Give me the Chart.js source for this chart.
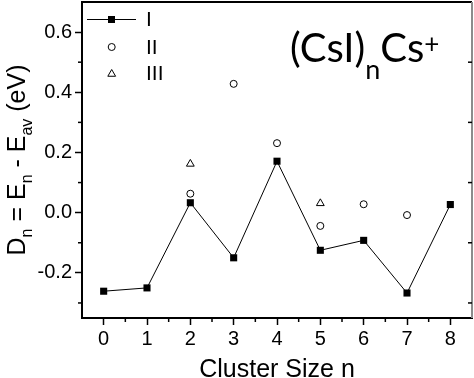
<!DOCTYPE html>
<html><head><meta charset="utf-8">
<script src="https://cdn.jsdelivr.net/npm/chart.js@4.4.1/dist/chart.umd.min.js"></script>
<style>html,body{margin:0;padding:0;background:#fff}#wrap{width:474px;height:378px;position:relative}</style>
</head><body><div id="wrap"><canvas id="c"></canvas></div>
<script>
// ---- data ----
const clusterSizes = [0,1,2,3,4,5,6,7,8];
const seriesI   = [-0.261,-0.250,0.033,-0.150,0.171,-0.125,-0.092,-0.267,0.027];
const seriesIIn = [2,3,4,5,6,7];
const seriesII  = [0.063,0.428,0.231,-0.044,0.028,-0.008];
const seriesIIIn = [2,5];
const seriesIII  = [0.162,0.031];
const seriesNames = ['I','II','III'];
const xTickValues = [0,1,2,3,4,5,6,7,8];
const xTickLabels = ['0','1','2','3','4','5','6','7','8'];
const xMinorValues = [0.5,1.5,2.5,3.5,4.5,5.5,6.5,7.5];
const yTickValues = [-0.2,0.0,0.2,0.4,0.6];
const yTickLabels = ['-0.2','0.0','0.2','0.4','0.6'];
const yMinorValues = [-0.3,-0.1,0.1,0.3,0.5];
const xTitle = 'Cluster Size n';
const yTitleParts = [['D',0],['n',1],[' = E',0],['n',1],[' - E',0],['av',1],[' (eV)',0]];
const chartTitleParts = [['(CsI)',0],['n',1],['Cs',0],['+',2]];

const AX = '"Liberation Sans", Arial, sans-serif';

function drawRich(ctx, parts, x, y, mainSize, subSize, subDy, supSize, supDy, family, align) {
  const fontFor = k => (k===0? mainSize : (k===1? subSize : supSize)) + 'px ' + family;
  let total = 0;
  parts.forEach(([t,k]) => { ctx.font = fontFor(k); total += ctx.measureText(t).width; });
  let cx = align === 'center' ? x - total/2 : x;
  ctx.textBaseline = 'alphabetic'; ctx.textAlign = 'left';
  parts.forEach(([t,k]) => {
    ctx.font = fontFor(k);
    const dy = k===1 ? subDy : (k===2 ? supDy : 0);
    ctx.fillText(t, cx, y + dy);
    cx += ctx.measureText(t).width;
  });
}

const decor = {
  id: 'decor',
  afterDraw(chart) {
    const {ctx, chartArea: a, scales: {x, y}} = chart;
    ctx.save();
    // frame: top and right
    ctx.lineWidth = 2;
    ctx.strokeStyle = '#000';
    ctx.beginPath(); ctx.moveTo(a.left, a.top); ctx.lineTo(a.right, a.top); ctx.stroke();
    ctx.strokeStyle = '#8c8c8c';
    ctx.beginPath(); ctx.moveTo(a.right, a.top); ctx.lineTo(a.right, a.bottom); ctx.stroke();
    // minor ticks
    ctx.strokeStyle = '#000'; ctx.lineWidth = 1.5;
    xMinorValues.forEach(v => { const p = x.getPixelForValue(v);
      ctx.beginPath(); ctx.moveTo(p, a.bottom); ctx.lineTo(p, a.bottom + 4); ctx.stroke(); });
    yMinorValues.forEach(v => { const p = y.getPixelForValue(v);
      ctx.beginPath(); ctx.moveTo(a.left - 4, p); ctx.lineTo(a.left, p); ctx.stroke();
      ctx.beginPath(); ctx.moveTo(a.right - 4, p); ctx.lineTo(a.right, p); ctx.stroke(); });
    ctx.fillStyle = '#000';
    // axis titles
    drawRich(ctx, [[xTitle,0]], (a.left + a.right)/2, 377, 25, 25, 0, 25, 0, AX, 'center');
    ctx.save();
    ctx.translate(25, (a.top + a.bottom)/2);
    ctx.rotate(-Math.PI/2);
    drawRich(ctx, yTitleParts, 0, 0, 25, 16, 7, 16, -10, AX, 'center');
    ctx.restore();
    // chart label
    drawRich(ctx, chartTitleParts, 290, 62, 40, 27, 17, 26, -9, 'Lato, "Open Sans", sans-serif', 'left');
    // legend
    const ly = [19.5, 47, 73];
    ctx.strokeStyle = '#000'; ctx.lineWidth = 1;
    ctx.beginPath(); ctx.moveTo(87, ly[0]); ctx.lineTo(136, ly[0]); ctx.stroke();
    ctx.fillStyle = '#000'; ctx.fillRect(108, ly[0]-3.5, 7, 7);
    ctx.beginPath(); ctx.arc(111.7, ly[1], 3.5, 0, Math.PI*2); ctx.stroke();
    const r = 4.5, tx = 111.7, ty = ly[2] + 1;
    ctx.beginPath();
    ctx.moveTo(tx, ty - r);
    ctx.lineTo(tx + r*Math.sin(2*Math.PI/3), ty - r*Math.cos(2*Math.PI/3));
    ctx.lineTo(tx + r*Math.sin(4*Math.PI/3), ty - r*Math.cos(4*Math.PI/3));
    ctx.closePath(); ctx.stroke();
    ctx.font = '21px ' + AX; ctx.textBaseline = 'middle'; ctx.textAlign = 'left';
    chart.data.datasets.forEach((ds, i) => ctx.fillText(ds.label, 146, ly[i] + 1));
    ctx.restore();
  }
};

const toXY = (xs, ys) => xs.map((v, i) => ({x: v, y: ys[i]}));

new Chart(document.getElementById('c'), {
  type: 'scatter',
  data: {
    datasets: [
      { label: seriesNames[0], data: toXY(clusterSizes, seriesI), showLine: true,
        borderColor: '#000', borderWidth: 1, pointStyle: 'rect', pointRadius: 5,
        pointBackgroundColor: '#000', pointBorderColor: '#000', pointBorderWidth: 0 },
      { label: seriesNames[1], data: toXY(seriesIIn, seriesII), showLine: false,
        pointStyle: 'circle', pointRadius: 3.5, pointBackgroundColor: '#fff',
        pointBorderColor: '#000', pointBorderWidth: 1 },
      { label: seriesNames[2], data: toXY(seriesIIIn, seriesIII), showLine: false,
        pointStyle: 'triangle', pointRadius: 4.5, pointBackgroundColor: '#fff',
        pointBorderColor: '#000', pointBorderWidth: 1 }
    ]
  },
  options: {
    responsive: true, maintainAspectRatio: false, animation: false,
    layout: { autoPadding: false, padding: { top: 2, right: 2, left: 0, bottom: 0 } },
    plugins: { legend: { display: false }, tooltip: { enabled: false } },
    scales: {
      x: {
        type: 'linear', min: -0.5, max: 8.5,
        afterBuildTicks: s => { s.ticks = xTickValues.map(v => ({value: v})); },
        afterFit: s => { s.height = 60; s.paddingLeft = 0; s.paddingRight = 0; },
        ticks: { color: '#000', font: { family: AX, size: 20 }, padding: 2, maxRotation: 0,
          callback: v => { const i = xTickValues.indexOf(v); return i >= 0 ? xTickLabels[i] : ''; } },
        grid: { drawOnChartArea: false, drawTicks: true, tickLength: 7, tickWidth: 1.5, tickColor: '#000' },
        border: { display: true, color: '#000', width: 2 }
      },
      y: {
        type: 'linear', min: -0.35, max: 0.7,
        afterBuildTicks: s => { s.ticks = yTickValues.map(v => ({value: v})); },
        afterFit: s => { s.width = 82; s.paddingTop = 0; s.paddingBottom = 0; },
        ticks: { color: '#000', font: { family: AX, size: 20 }, padding: 3,
          callback: v => { const i = yTickValues.findIndex(t => Math.abs(t - v) < 1e-9); return i >= 0 ? yTickLabels[i] : ''; } },
        grid: { drawOnChartArea: false, drawTicks: true, tickLength: 7, tickWidth: 1.5, tickColor: '#000' },
        border: { display: true, color: '#000', width: 2 }
      }
    }
  },
  plugins: [decor]
});
</script>
</body></html>
